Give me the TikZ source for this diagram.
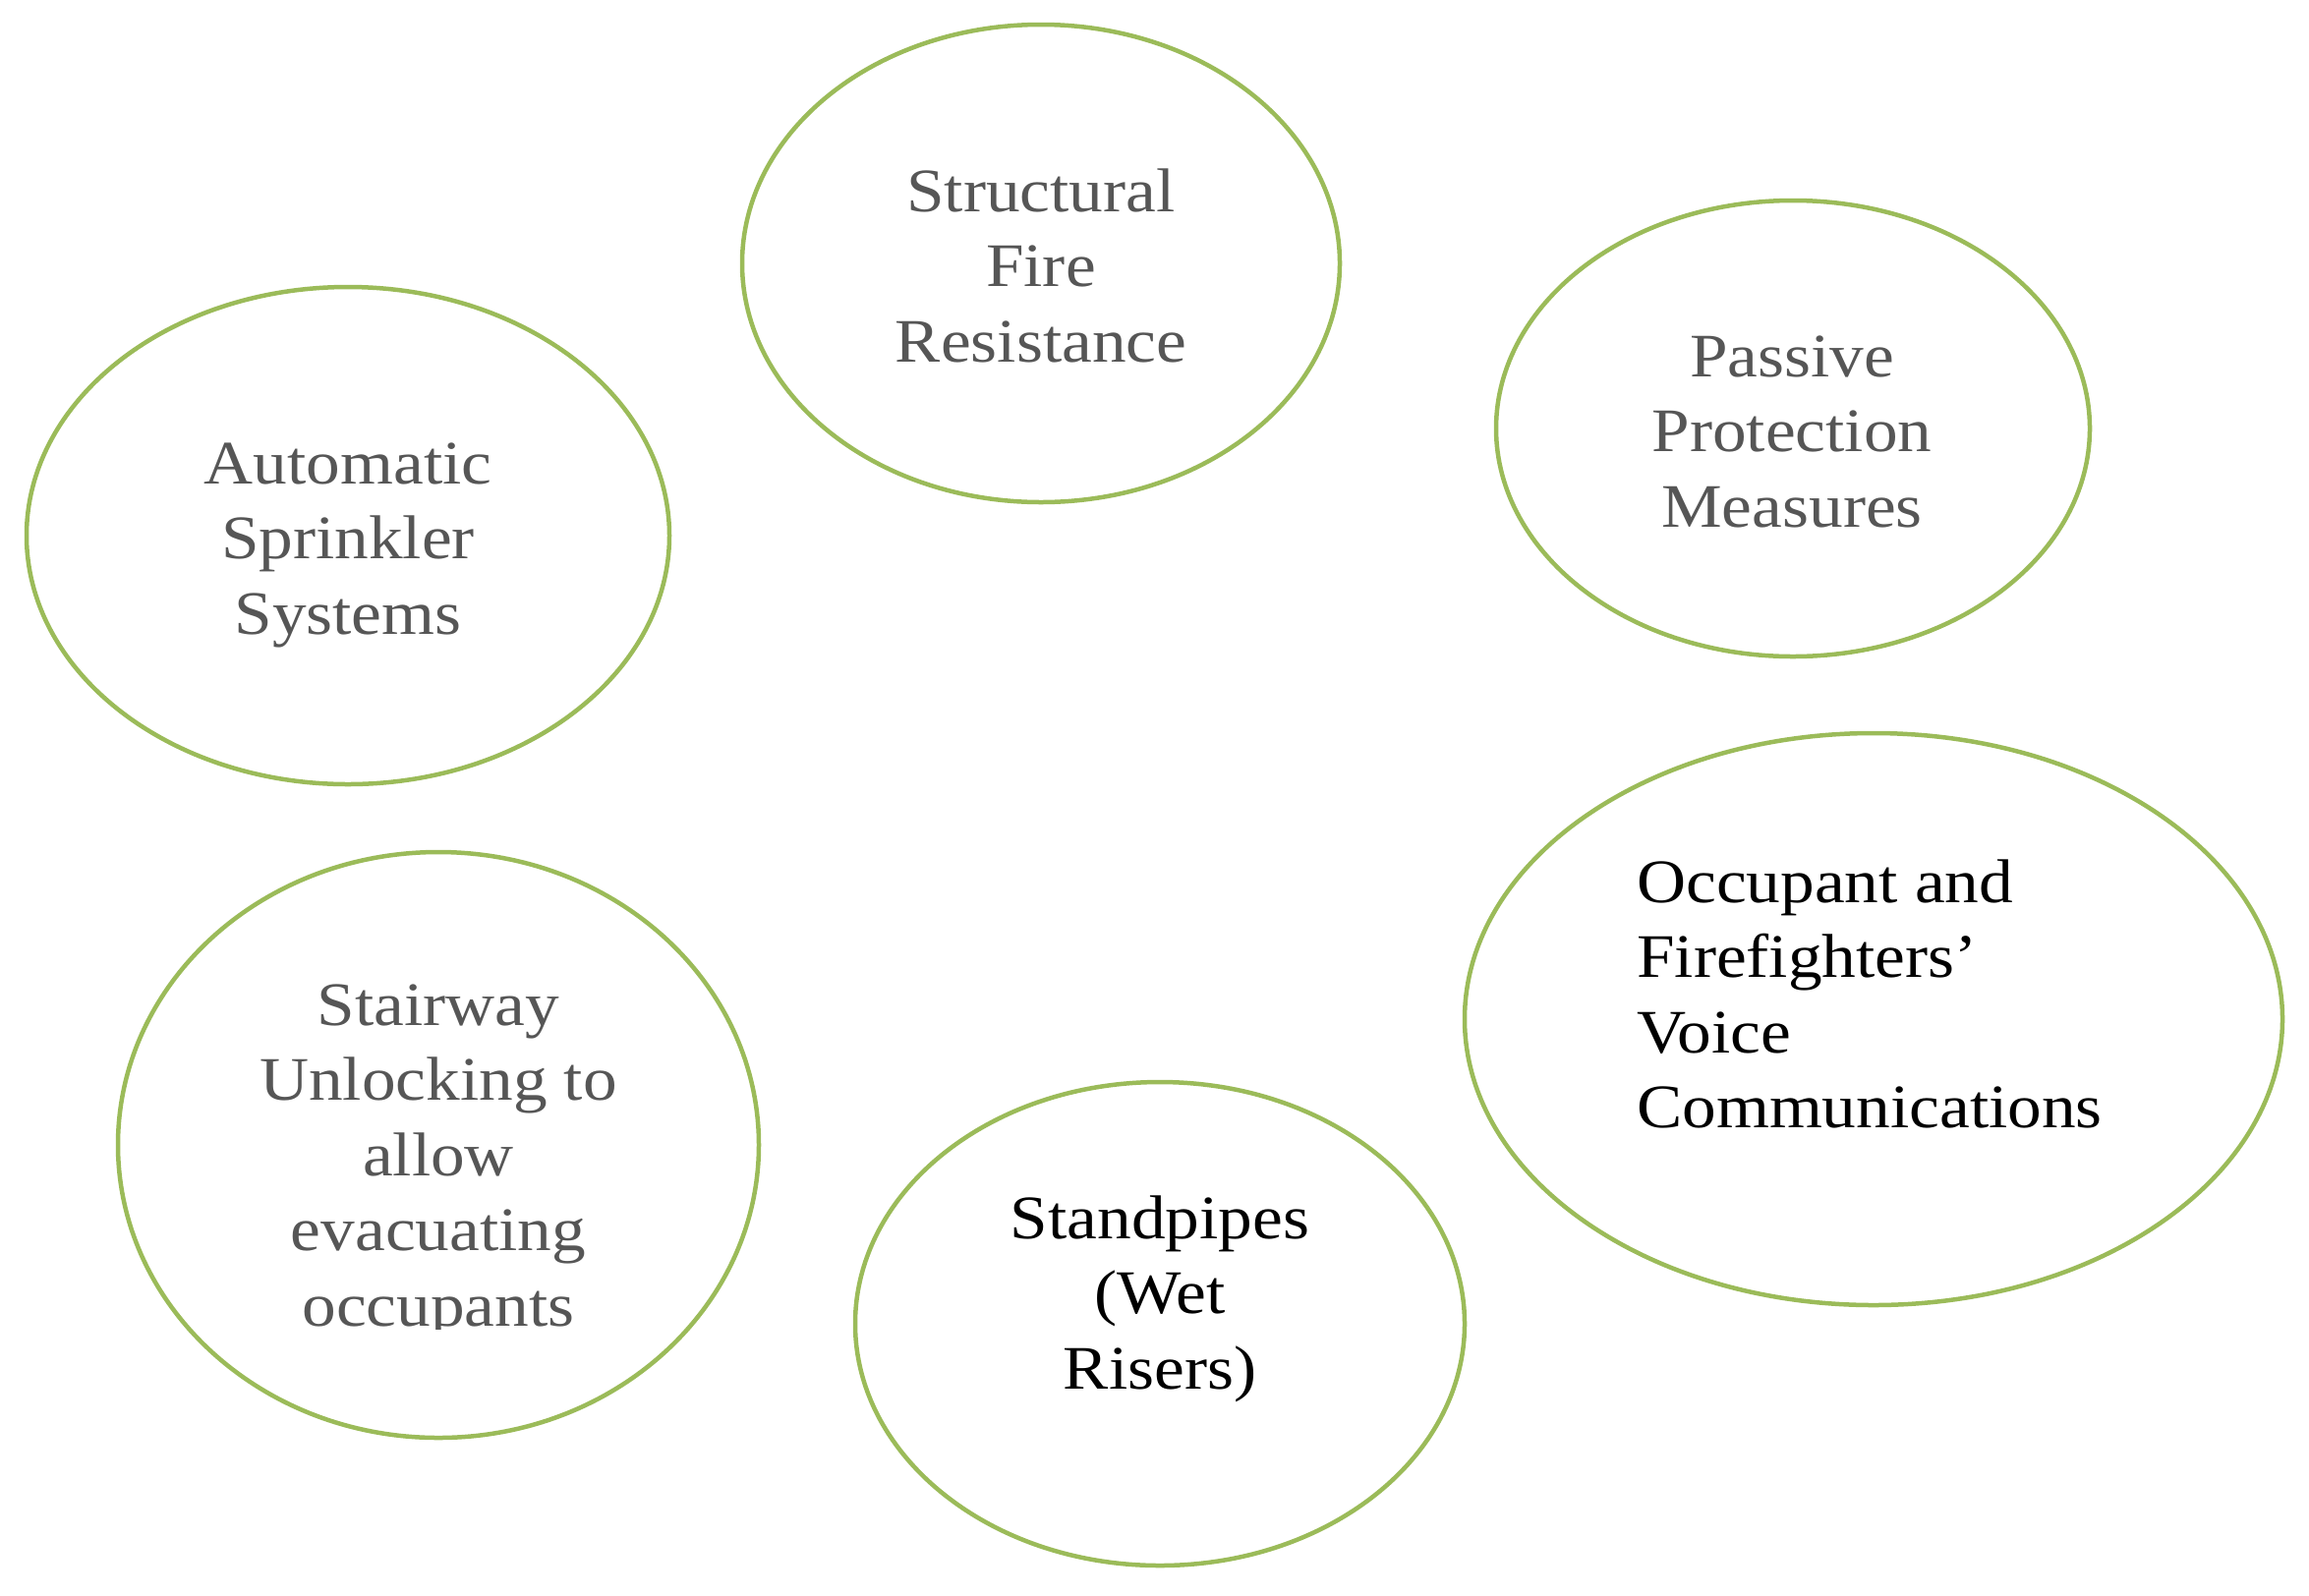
\documentclass[tikz,border=0pt]{standalone}
\usepackage{fontspec}
\setmainfont{Liberation Serif}[FakeStretch=1.1]
\usetikzlibrary{shapes.geometric}
\definecolor{ringgreen}{HTML}{9BBB59}
\definecolor{txtgray}{HTML}{565656}
\tikzset{
  ring/.style={draw=ringgreen, line width=4.5pt, ellipse, inner sep=0pt},
  lbl/.style={inner sep=0pt, anchor=base, align=center, font=\fontsize{63}{76.5}\selectfont},
  lbll/.style={inner sep=0pt, anchor=base west, align=left, font=\fontsize{63}{76.5}\selectfont}
}
\begin{document}
\begin{tikzpicture}[x=1pt,y=-1pt]
\useasboundingbox (0,0) rectangle (2349,1623);
% ellipses
\node[ring, minimum width=608pt, minimum height=486pt] (e1) at (1059,268) {};
\node[ring, minimum width=604pt, minimum height=464pt] (e2) at (1824,436) {};
\node[ring, minimum width=654pt, minimum height=506pt] (e3) at (354,545) {};
\node[ring, minimum width=832pt, minimum height=582pt] (e4) at (1906,1037) {};
\node[ring, minimum width=652pt, minimum height=596pt] (e5) at (446,1165) {};
\node[ring, minimum width=620pt, minimum height=492pt] (e6) at (1180,1347) {};
% labels (anchor = baseline of the last line)
\node[lbl, text=txtgray] (t1) at (1059,368) {Structural\\Fire\\Resistance};
\node[lbl, text=txtgray] (t2) at (1823,536) {Passive\\Protection\\Measures};
\node[lbl, text=txtgray] (t3) at (354,645) {Automatic\\Sprinkler\\Systems};
\begin{scope}
\clip (0,0) rectangle (2349,1352);
\node[lbl, text=txtgray] (t5) at (446,1349) {Stairway\\Unlocking to\\allow\\evacuating\\occupants};
\end{scope}
\node[lbll, text=black] (t4) at (1665,1147.5) {Occupant and\\Firefighters’\\Voice\\Communications};
\node[lbl, text=black] (t6) at (1180,1413) {Standpipes\\(Wet\\Risers)};
\end{tikzpicture}
\end{document}
